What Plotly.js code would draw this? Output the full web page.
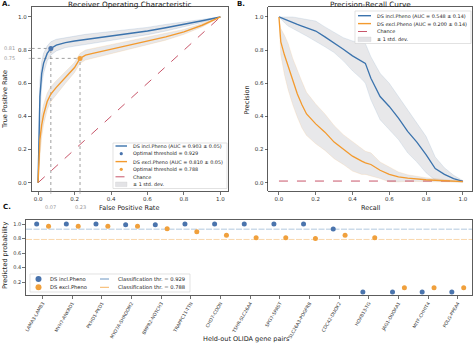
<!DOCTYPE html>
<html>
<head>
<meta charset="utf-8">
<script src="https://cdn.plot.ly/plotly-3.0.1.min.js"></script>
<style>html,body{margin:0;padding:0;background:#fff}#chart{width:474px;height:352px}</style>
</head>
<body>
<div id="chart"></div>
<script>
// ---------------- DATA ----------------
// Panel A: ROC (mean curves)
const rocFpr = [0, 0.005, 0.01, 0.02, 0.03, 0.05, 0.07, 0.1, 0.15, 0.2, 0.23, 0.26, 0.3, 0.4, 0.5, 0.6, 0.7, 0.8, 0.9, 1.0];
const rocInclTpr = [0, 0.30, 0.52, 0.66, 0.72, 0.78, 0.81, 0.83, 0.845, 0.855, 0.86, 0.865, 0.87, 0.885, 0.90, 0.915, 0.935, 0.955, 0.977, 1.0];
const rocInclStd = [0, 0.12, 0.10, 0.07, 0.06, 0.045, 0.04, 0.035, 0.03, 0.03, 0.03, 0.03, 0.03, 0.028, 0.025, 0.022, 0.02, 0.015, 0.01, 0];
const rocExclTpr = [0, 0.18, 0.26, 0.35, 0.41, 0.49, 0.535, 0.575, 0.635, 0.695, 0.75, 0.77, 0.78, 0.805, 0.83, 0.855, 0.88, 0.91, 0.95, 1.0];
const rocExclStd = [0, 0.08, 0.08, 0.07, 0.06, 0.05, 0.045, 0.04, 0.035, 0.03, 0.03, 0.03, 0.03, 0.028, 0.025, 0.022, 0.02, 0.015, 0.01, 0];
const optFpr = [0.07, 0.23];
const optTpr = [0.81, 0.75];
const chanceX = [0, 1];
const chanceRoc = [0, 1];

// Panel B: Precision-Recall (mean curves)
const prRecall = [0, 0.01, 0.03, 0.05, 0.075, 0.1, 0.125, 0.15, 0.2, 0.25, 0.3, 0.35, 0.4, 0.45, 0.47, 0.5, 0.55, 0.6, 0.65, 0.7, 0.75, 0.8, 0.85, 0.9, 0.95, 1.0];
const prInclPrec = [1.0, 0.995, 0.985, 0.975, 0.965, 0.955, 0.945, 0.935, 0.915, 0.88, 0.845, 0.805, 0.765, 0.735, 0.72, 0.63, 0.52, 0.46, 0.39, 0.31, 0.245, 0.17, 0.085, 0.05, 0.025, 0.008];
const prInclStd = [0, 0.01, 0.02, 0.03, 0.035, 0.04, 0.045, 0.05, 0.06, 0.06, 0.06, 0.07, 0.09, 0.11, 0.12, 0.13, 0.14, 0.14, 0.13, 0.13, 0.12, 0.11, 0.07, 0.04, 0.02, 0.005];
const prExclPrec = [1.0, 0.85, 0.77, 0.70, 0.61, 0.535, 0.47, 0.415, 0.355, 0.305, 0.245, 0.20, 0.16, 0.13, 0.12, 0.11, 0.075, 0.05, 0.035, 0.028, 0.022, 0.018, 0.015, 0.012, 0.009, 0.006];
const prExclStd = [0, 0.08, 0.12, 0.14, 0.14, 0.14, 0.14, 0.13, 0.12, 0.11, 0.10, 0.09, 0.09, 0.08, 0.07, 0.07, 0.05, 0.045, 0.03, 0.02, 0.015, 0.012, 0.01, 0.008, 0.005, 0.003];
const chancePr = [0.01, 0.01];

// Panel C: held-out gene pairs
const genePairs = ["LAMA3-LAMB3", "MYH7-ANKRD1", "PKHD1-PKD1", "MYO7A-SHROOM2", "BMPR2-NOTCH3", "TRAPPC11-TTN", "CHD7-CDON", "TSHR-SLC26A4", "SPG7-SPAST", "SLC26A3-PDGFRB", "CDC42-DUOX2", "HOXB13-TG", "JAG1-DUOXA1", "MITF-CHHIT4", "POLG-PPEA4"];
const probIncl = [1.0, 1.0, 1.0, 0.99, 0.99, 1.0, 1.0, 1.0, 1.0, 1.0, 0.93, 0.067, 0.067, 0.067, 0.067];
const probExcl = [0.97, 0.97, 0.97, 0.97, 0.935, 0.895, 0.845, 0.81, 0.81, 0.80, 0.845, 0.81, 0.125, 0.125, 0.125];
const thrIncl = 0.929;
const thrExcl = 0.788;

// Labels
const rocLabels = ["DS incl.Pheno (AUC = 0.903 ± 0.05)", "Optimal threshold = 0.929", "DS excl.Pheno (AUC = 0.810 ± 0.05)", "Optimal threshold = 0.788", "Chance", "± 1 std. dev."];
const prLabels = ["DS incl.Pheno (AUC = 0.548 ± 0.14)", "DS excl.Pheno (AUC = 0.200 ± 0.14)", "Chance", "± 1 std. dev."];
const cLabels = ["DS incl.Pheno", "DS excl.Pheno", "Classification thr. = 0.929", "Classification thr. = 0.788"];

// ---------------- STYLE / LAYOUT ----------------
const W = 474, H = 352;
const BLUE = "#3b73ad", ORANGE = "#f39a2e", CHANCE = "#c8566a";
const DOTB = "#4a74ad", DOTO = "#f0a03c";
const FONT = "DejaVu Sans, sans-serif";
const px = v => v / W, py = v => 1 - v / H;

function band(x, y, s) {
  const up = y.map((v, i) => Math.min(1, v + s[i]));
  const lo = y.map((v, i) => Math.max(0, v - s[i]));
  return { x: x.concat(x.slice().reverse()), y: up.concat(lo.slice().reverse()) };
}

const bA1 = band(rocFpr, rocInclTpr, rocInclStd);
const bA2 = band(rocFpr, rocExclTpr, rocExclStd);
const bB1 = band(prRecall, prInclPrec, prInclStd);
const bB2 = band(prRecall, prExclPrec, prExclStd);

const BANDFILL = "rgba(190,190,195,0.35)";
const traces = [
  {x: bA1.x, y: bA1.y, xaxis: "x", yaxis: "y", fill: "toself", fillcolor: BANDFILL, line: {color: "rgba(59,115,173,0.25)", width: 0.6}, mode: "lines", hoverinfo: "skip", showlegend: false},
  {x: bA2.x, y: bA2.y, xaxis: "x", yaxis: "y", fill: "toself", fillcolor: BANDFILL, line: {color: "rgba(243,154,46,0.25)", width: 0.6}, mode: "lines", hoverinfo: "skip", showlegend: false},
  {x: chanceX, y: chanceRoc, xaxis: "x", yaxis: "y", mode: "lines", line: {color: CHANCE, width: 1, dash: "dash"}, showlegend: false},
  {x: rocFpr, y: rocInclTpr, xaxis: "x", yaxis: "y", mode: "lines", line: {color: BLUE, width: 1.4}, showlegend: false},
  {x: rocFpr, y: rocExclTpr, xaxis: "x", yaxis: "y", mode: "lines", line: {color: ORANGE, width: 1.4}, showlegend: false},
  {x: [optFpr[0]], y: [optTpr[0]], xaxis: "x", yaxis: "y", mode: "markers", marker: {color: DOTB, size: 5}, showlegend: false},
  {x: [optFpr[1]], y: [optTpr[1]], xaxis: "x", yaxis: "y", mode: "markers", marker: {color: DOTO, size: 5}, showlegend: false},

  {x: bB1.x, y: bB1.y, xaxis: "x2", yaxis: "y2", fill: "toself", fillcolor: BANDFILL, line: {color: "rgba(59,115,173,0.2)", width: 0.6}, mode: "lines", hoverinfo: "skip", showlegend: false},
  {x: bB2.x, y: bB2.y, xaxis: "x2", yaxis: "y2", fill: "toself", fillcolor: BANDFILL, line: {color: "rgba(243,154,46,0.2)", width: 0.6}, mode: "lines", hoverinfo: "skip", showlegend: false},
  {x: chanceX, y: chancePr, xaxis: "x2", yaxis: "y2", mode: "lines", line: {color: CHANCE, width: 1, dash: "dash"}, showlegend: false},
  {x: prRecall, y: prInclPrec, xaxis: "x2", yaxis: "y2", mode: "lines", line: {color: BLUE, width: 1.3}, showlegend: false},
  {x: prRecall, y: prExclPrec, xaxis: "x2", yaxis: "y2", mode: "lines", line: {color: ORANGE, width: 1.3}, showlegend: false},

  {x: genePairs.map((g, i) => i - 0.2), y: probIncl, xaxis: "x3", yaxis: "y3", mode: "markers", marker: {color: DOTB, size: 5}, showlegend: false},
  {x: genePairs.map((g, i) => i + 0.2), y: probExcl, xaxis: "x3", yaxis: "y3", mode: "markers", marker: {color: DOTO, size: 5}, showlegend: false}
];

const axBase = {
  showline: true, mirror: true, linecolor: "#333", linewidth: 0.8,
  ticks: "outside", ticklen: 3, tickwidth: 0.7, tickcolor: "#333",
  showgrid: false, zeroline: false, tickfont: {family: FONT, size: 5.5, color: "#333"}
};
const tick01 = {tickvals: [0, 0.2, 0.4, 0.6, 0.8, 1.0], ticktext: ["0.0", "0.2", "0.4", "0.6", "0.8", "1.0"]};

const layout = {
  width: W, height: H, margin: {l: 0, r: 0, t: 0, b: 0},
  paper_bgcolor: "#fff", plot_bgcolor: "#fff", showlegend: false,
  font: {family: FONT, color: "#222"},
  xaxis: Object.assign({}, axBase, tick01, {domain: [px(31.7), px(227.7)], range: [-0.035, 1.04], anchor: "y"}),
  yaxis: Object.assign({}, axBase, tick01, {domain: [py(191), py(7)], range: [-0.05, 1.06], anchor: "x"}),
  xaxis2: Object.assign({}, axBase, tick01, {domain: [px(268.3), px(472)], range: [-0.058, 1.05], anchor: "y2"}),
  yaxis2: Object.assign({}, axBase, tick01, {domain: [py(191), py(7)], range: [-0.05, 1.06], anchor: "x2"}),
  xaxis3: Object.assign({}, axBase, {domain: [px(26), px(472)], range: [-0.56, 14.48], anchor: "y3",
    tickvals: genePairs.map((g, i) => i), ticktext: genePairs, tickangle: -60, tickfont: {family: FONT, size: 4.6, color: "#333"}}),
  yaxis3: Object.assign({}, axBase, {domain: [py(295), py(220)], range: [0.026, 1.055], anchor: "x3",
    tickvals: [0.2, 0.4, 0.6, 0.8, 1.0], ticktext: ["0.2", "0.4", "0.6", "0.8", "1.0"], tickfont: {family: FONT, size: 5, color: "#333"}}),
  shapes: [], annotations: []
};

const S = layout.shapes, A = layout.annotations;
function txt(text, x, y, o) {
  A.push(Object.assign({text: text, x: x, y: y, xref: "paper", yref: "paper", showarrow: false,
    xanchor: "center", yanchor: "middle", font: {family: FONT, size: 6.5, color: "#222"}}, o || {}));
}

// Titles & axis titles
txt("Receiver Operating Characteristic", px(129.7), py(4.5), {font: {family: FONT, size: 7.3, color: "#222"}});
txt("Precision-Recall Curve", px(370), py(4.5), {font: {family: FONT, size: 7.3, color: "#222"}});
txt("<b>A.</b>", px(0), py(4), {xanchor: "left", font: {family: FONT, size: 7, color: "#111"}});
txt("<b>B.</b>", px(235), py(4), {xanchor: "left", font: {family: FONT, size: 7, color: "#111"}});
txt("<b>C.</b>", px(1), py(207), {xanchor: "left", font: {family: FONT, size: 7, color: "#111"}});
txt("False Positive Rate", px(129), py(207.5));
txt("Recall", px(371), py(207.5));
txt("True Positive Rate", px(5), py(100), {textangle: -90});
txt("Precision", px(246.5), py(100), {textangle: -90});
txt("Predicted probability", px(5), py(256), {textangle: -90});
txt("Held-out OLIDA gene pairs", px(247), py(338.5));

// Optimal threshold guides (panel A)
const GREY = "#888";
optFpr.forEach((fx, i) => {
  const ty = optTpr[i];
  S.push({type: "line", xref: "x", yref: "y", x0: fx, x1: fx, y0: -0.05, y1: ty, layer: "below", line: {color: GREY, width: 0.8, dash: "dot"}});
  S.push({type: "line", xref: "x", yref: "y", x0: -0.035, x1: fx, y0: ty, y1: ty, layer: "below", line: {color: GREY, width: 0.8, dash: "dot"}});
  S.push({type: "line", xref: "x", yref: "paper", x0: fx, x1: fx, y0: py(191), y1: py(194), line: {color: "#999", width: 0.6}});
  S.push({type: "line", xref: "paper", yref: "y", x0: px(28.7), x1: px(31.7), y0: ty, y1: ty, line: {color: "#999", width: 0.6}});
  A.push({text: fx.toFixed(2), x: fx, y: py(202), xref: "x", yref: "paper", showarrow: false, xanchor: "center", yanchor: "top", font: {family: FONT, size: 5, color: "#999"}});
  A.push({text: ty.toFixed(2), x: px(16.5), y: ty, xref: "paper", yref: "y", showarrow: false, xanchor: "right", yanchor: "middle", font: {family: FONT, size: 5, color: "#999"}});
});

// Threshold lines (panel C)
S.push({type: "line", xref: "x3", yref: "y3", x0: -0.56, x1: 14.48, y0: thrIncl, y1: thrIncl, layer: "below", line: {color: "rgba(59,115,173,0.4)", width: 1, dash: "6px,1.5px"}});
S.push({type: "line", xref: "x3", yref: "y3", x0: -0.56, x1: 14.48, y0: thrExcl, y1: thrExcl, layer: "below", line: {color: "rgba(243,154,46,0.4)", width: 1, dash: "6px,1.5px"}});

// Compact legends (matplotlib style)
function box(x0, y0, x1, y1) {
  S.push({type: "rect", xref: "paper", yref: "paper", x0: px(x0), x1: px(x1), y0: py(y1), y1: py(y0),
    fillcolor: "rgba(255,255,255,0.85)", line: {color: "#d6d6d6", width: 0.7}, layer: "above"});
}
function entry(kind, color, label, sx0, sx1, tx, y, fs, msize) {
  const cx = (sx0 + sx1) / 2;
  if (kind === "line" || kind === "dash") {
    S.push({type: "line", xref: "paper", yref: "paper", x0: px(sx0), x1: px(sx1), y0: py(y), y1: py(y), layer: "above",
      line: {color: color, width: kind === "line" ? 1.4 : 1, dash: kind === "dash" ? "dash" : "solid"}});
  } else if (kind === "marker") {
    const r = msize / 2;
    S.push({type: "circle", xref: "paper", yref: "paper", x0: px(cx - r), x1: px(cx + r), y0: py(y + r), y1: py(y - r), layer: "above",
      fillcolor: color, line: {color: color, width: 0}});
  } else if (kind === "patch") {
    S.push({type: "rect", xref: "paper", yref: "paper", x0: px(sx0), x1: px(sx1), y0: py(y + 2.3), y1: py(y - 2.3), layer: "above",
      fillcolor: "rgba(200,200,205,0.5)", line: {color: "rgba(200,200,205,0.6)", width: 0.5}});
  }
  A.push({text: label, x: px(tx), y: py(y), xref: "paper", yref: "paper", showarrow: false, xanchor: "left", yanchor: "middle",
    font: {family: FONT, size: fs, color: "#222"}});
}
// Legend A
box(113, 143, 227, 188.5);
const rowsA = [146, 153.7, 161.6, 169.3, 176.8, 184.3];
const kindsA = [["line", BLUE], ["marker", DOTB], ["line", ORANGE], ["marker", DOTO], ["dash", CHANCE], ["patch", ""]];
rocLabels.forEach((lab, i) => entry(kindsA[i][0], kindsA[i][1], lab, 115.5, 127, 131, rowsA[i], 4.9, 3.2));
// Legend B
box(355, 11, 471, 43.5);
const rowsB = [15.7, 23.6, 31.5, 39.3];
const kindsB = [["line", BLUE], ["line", ORANGE], ["dash", CHANCE], ["patch", ""]];
prLabels.forEach((lab, i) => entry(kindsB[i][0], kindsB[i][1], lab, 358, 371, 374.5, rowsB[i], 4.9, 3.2));
// Legend C
box(30, 274, 190, 292);
entry("marker", DOTB, cLabels[0], 34.5, 42.5, 48, 279, 5.2, 6);
entry("marker", DOTO, cLabels[1], 34.5, 42.5, 48, 287.3, 5.2, 6);
entry("dash", "rgba(59,115,173,0.75)", cLabels[2], 100, 112, 115.5, 279, 5.2, 0);
entry("dash", "rgba(243,154,46,0.75)", cLabels[3], 100, 112, 115.5, 287.3, 5.2, 0);

Plotly.newPlot("chart", traces, layout, {staticPlot: true, displayModeBar: false});
</script>
</body>
</html>
